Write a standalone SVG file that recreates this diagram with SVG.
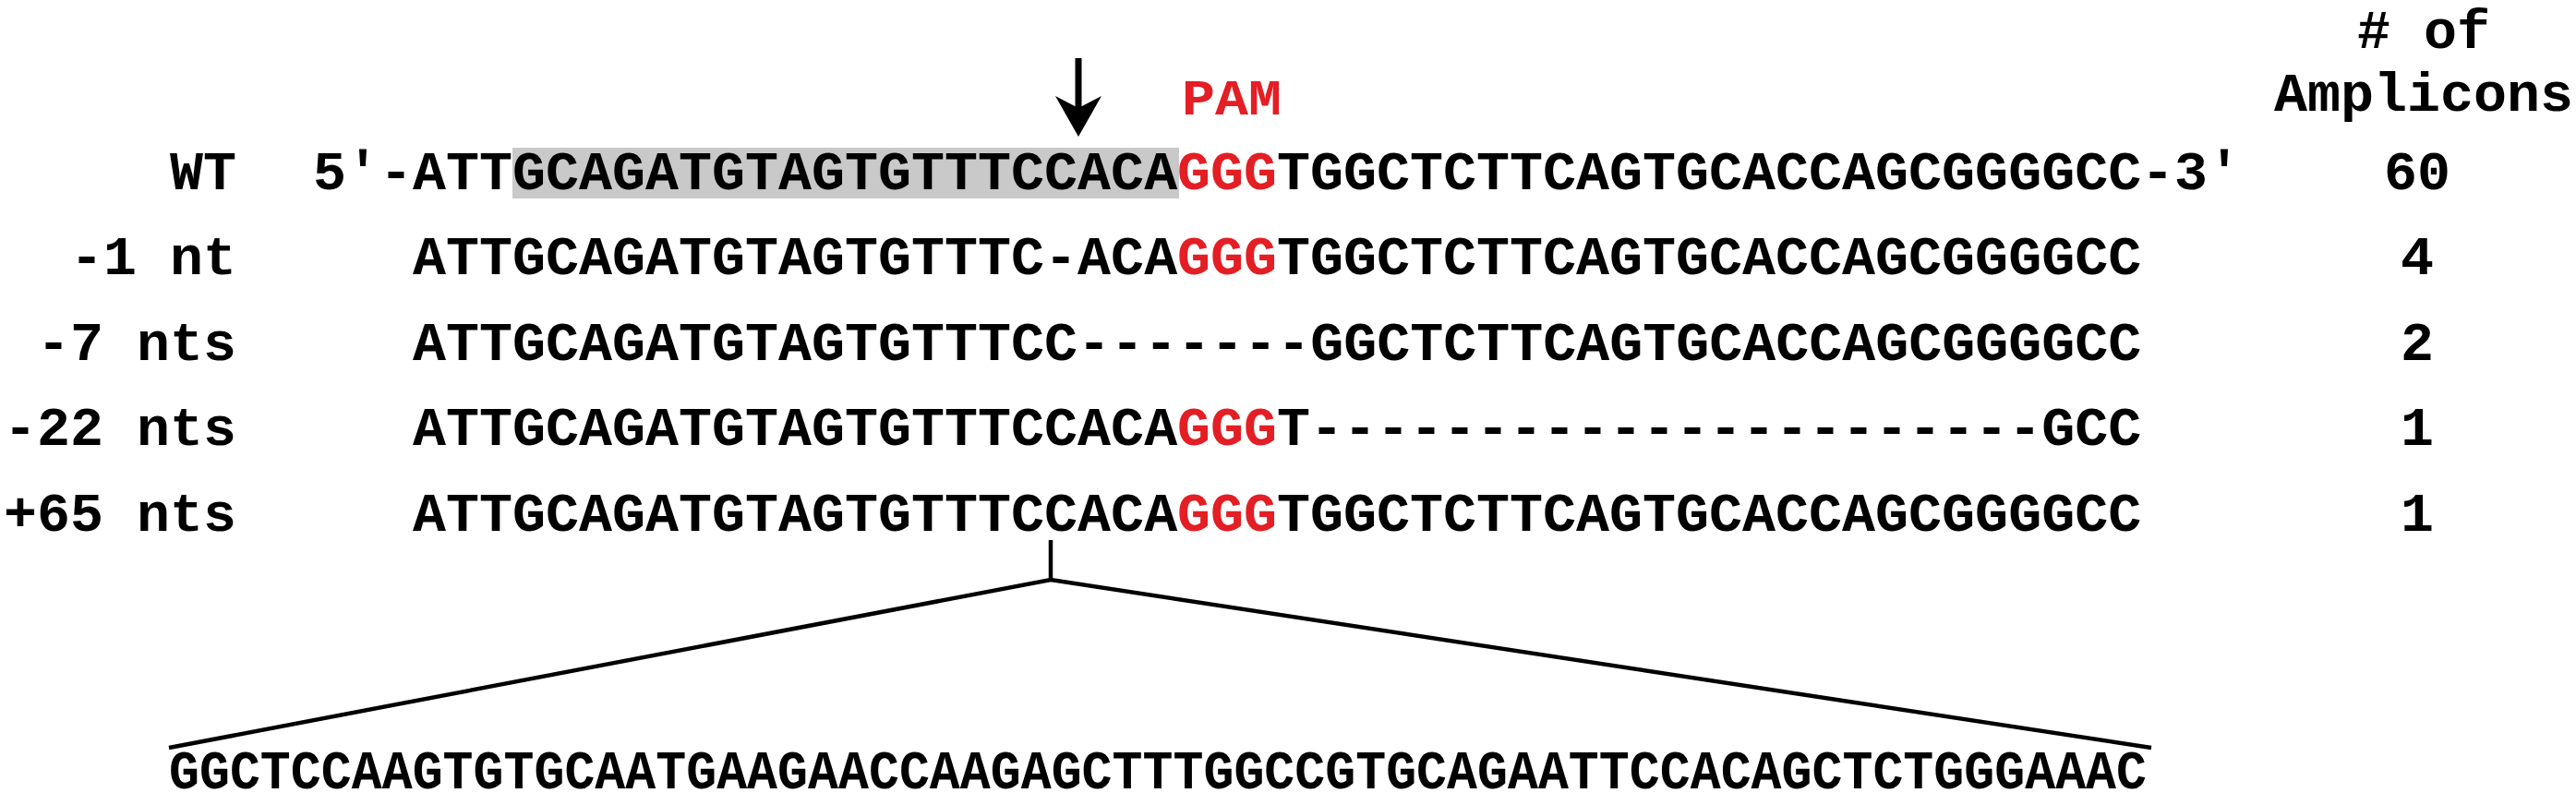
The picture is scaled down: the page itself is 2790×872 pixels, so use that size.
<svg xmlns="http://www.w3.org/2000/svg" width="2790" height="872" viewBox="0 0 2790 872">
<style>
text{font-family:"Liberation Mono","Courier New",monospace;font-weight:bold;font-size:60px;fill:#000;white-space:pre}
.red{fill:#e31e24}
.lbl{text-anchor:end}
.num{text-anchor:middle}
.conn{stroke:#000;fill:none;stroke-width:4.5}
</style>
<rect width="2790" height="872" fill="#fff"/>
<g id="header">
<text x="2625" y="52" class="num">#&#160;of</text>
<text x="2625" y="120" class="num">Amplicons</text>
</g>
<g id="pam">
<text x="1280" y="124" class="red" style="font-size:54px" textLength="108" lengthAdjust="spacingAndGlyphs">PAM</text>
</g>
<g id="row-wt">
<rect x="555" y="160" width="722" height="55" fill="#c9c9c9"/>
<text x="256" y="205" class="lbl">WT</text>
<text y="205"><tspan x="339">5′-</tspan><tspan x="447">ATTGCAGATGTAGTGTTTCCACA</tspan><tspan x="1275" class="red">GGG</tspan><tspan x="1383">TGGCTCTTCAGTGCACCAGCGGGGCC</tspan><tspan x="2319">-3′</tspan></text>
<text x="2618" y="205" class="num">60</text>
</g>
<g id="row-1nt">
<text x="256" y="297" class="lbl">-1 nt</text>
<text y="297"><tspan x="447">ATTGCAGATGTAGTGTTTC-ACA</tspan><tspan x="1275" class="red">GGG</tspan><tspan x="1383">TGGCTCTTCAGTGCACCAGCGGGGCC</tspan></text>
<text x="2618" y="297" class="num">4</text>
</g>
<g id="row-7nts">
<text x="256" y="390" class="lbl">-7 nts</text>
<text x="447" y="390">ATTGCAGATGTAGTGTTTCC-------GGCTCTTCAGTGCACCAGCGGGGCC</text>
<text x="2618" y="390" class="num">2</text>
</g>
<g id="row-22nts">
<text x="256" y="482" class="lbl">-22 nts</text>
<text y="482"><tspan x="447">ATTGCAGATGTAGTGTTTCCACA</tspan><tspan x="1275" class="red">GGG</tspan><tspan x="1383">T----------------------GCC</tspan></text>
<text x="2618" y="482" class="num">1</text>
</g>
<g id="row-65nts">
<text x="256" y="575" class="lbl">+65 nts</text>
<text y="575"><tspan x="447">ATTGCAGATGTAGTGTTTCCACA</tspan><tspan x="1275" class="red">GGG</tspan><tspan x="1383">TGGCTCTTCAGTGCACCAGCGGGGCC</tspan></text>
<text x="2618" y="575" class="num">1</text>
</g>
<g id="insert">
<text x="183" y="854" textLength="2142" lengthAdjust="spacingAndGlyphs">GGCTCCAAGTGTGCAATGAAGAACCAAGAGCTTTGGCCGTGCAGAATTCCACAGCTCTGGGAAAC</text>
</g>
<g id="connectors">
<line class="conn" x1="1168" y1="63" x2="1168" y2="122" style="stroke-width:7"/>
<path d="M1168,148 L1143,104 L1168,117 L1193,104 Z" fill="#000"/>
<polyline class="conn" points="1138,585 1138,628"/>
<polyline class="conn" points="183,810 1138,628 2330,810"/>
</g>
</svg>
